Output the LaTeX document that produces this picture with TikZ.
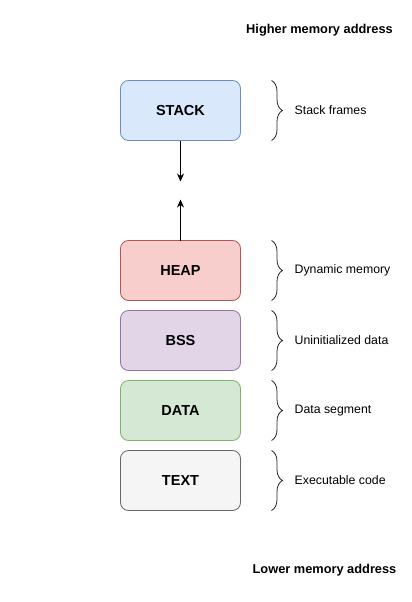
\documentclass[tikz,border=0pt]{standalone}
\usepackage{fontspec}
\setmainfont{Liberation Sans}
\usetikzlibrary{positioning, arrows.meta, calc, decorations.pathreplacing}
\definecolor{stackfill}{HTML}{DAE8FC}
\definecolor{stackline}{HTML}{6C8EBF}
\definecolor{heapfill}{HTML}{F8CECC}
\definecolor{heapline}{HTML}{B85450}
\definecolor{bssfill}{HTML}{E1D5E7}
\definecolor{bssline}{HTML}{9673A6}
\definecolor{datafill}{HTML}{D5E8D4}
\definecolor{dataline}{HTML}{82B366}
\definecolor{textfill}{HTML}{F5F5F5}
\definecolor{textline}{HTML}{666666}

\begin{document}
\begin{tikzpicture}[
  x=1pt, y=1pt,
  node distance=10pt,
  seg/.style={
    rounded corners=8pt, minimum width=120pt, minimum height=60pt,
    inner sep=0pt, outer sep=0pt, align=center, line width=0.8pt,
    font=\fontsize{14.5}{17}\selectfont\bfseries
  },
  segstack/.style={seg, draw=stackline, fill=stackfill},
  segheap/.style={seg, draw=heapline, fill=heapfill},
  segbss/.style={seg, draw=bssline, fill=bssfill},
  segdata/.style={seg, draw=dataline, fill=datafill},
  segtext/.style={seg, draw=textline, fill=textfill},
  note/.style={font=\fontsize{12.3}{15}\selectfont, inner sep=2pt, anchor=west},
  title/.style={font=\fontsize{12.8}{15}\selectfont\bfseries, inner sep=0pt},
  arrow/.style={-{Stealth[length=8pt, width=7pt]}, line width=0.8pt, draw=black},
  bracket/.style={decorate, decoration={brace, amplitude=11pt}, line width=0.8pt, draw=black!85},
]
\useasboundingbox (0,0) rectangle (412,-602);

\node[title] (high) at (319.5,-30) {Higher memory address};
\node[title] (low) at (324.5,-570) {Lower memory address};

\node[segstack] (stack) at (180.5,-110.5) {STACK};
\node[segheap, below=100pt of stack] (heap) {HEAP};
\node[segbss, below=of heap] (bss) {BSS};
\node[segdata, below=of bss] (data) {DATA};
\node[segtext, below=of data] (text) {TEXT};

\coordinate (downend) at ($(stack.south)+(0,-41)$);
\coordinate (upend) at ($(heap.north)+(0,41)$);
\draw[arrow] (stack.south) -- (downend);
\draw[arrow] (heap.north) -- (upend);

% braces and notes on the right
\foreach \seg/\txt in {stack/Stack frames, heap/Dynamic memory, bss/Uninitialized data,
                       data/Data segment, text/Executable code}{
  \draw[bracket] ($(\seg.north east)+(31,0)$) -- ($(\seg.south east)+(31,0)$);
  \node[note, right=52pt of \seg.east, anchor=west] (\seg note) {\txt};
}

\end{tikzpicture}
\end{document}
